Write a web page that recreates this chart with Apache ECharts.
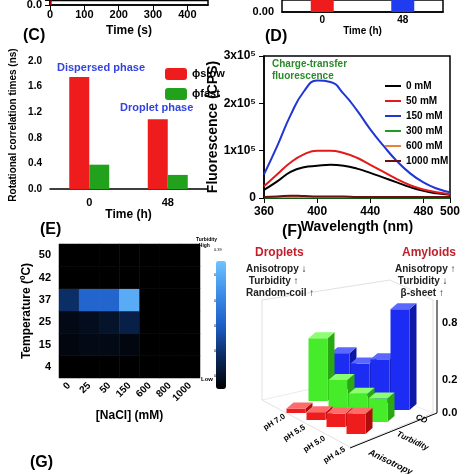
<!DOCTYPE html>
<html><head><meta charset="utf-8">
<script src="https://cdn.jsdelivr.net/npm/echarts@6/dist/echarts.min.js"></script>
<style>html,body{margin:0;padding:0;background:#fff}#c{width:474px;height:474px}</style>
</head><body><div id="c"></div>
<script>
// ---- data ----
const timeHours = ['0', '48'];
const phiSlow = [1.75, 1.09];
const phiFast = [0.38, 0.22];
const wavelengths = [360,370,380,390,400,410,420,430,440,450,460,470,480,490,500];
const fl0 = [0.17,0.35,0.55,0.65,0.68,0.70,0.68,0.62,0.53,0.43,0.33,0.23,0.15,0.10,0.07];
const fl50 = [0.25,0.50,0.75,0.92,1.00,1.00,0.95,0.85,0.70,0.55,0.40,0.27,0.18,0.12,0.08];
const fl150 = [0.50,1.10,1.75,2.25,2.48,2.45,2.20,1.85,1.45,1.10,0.78,0.52,0.33,0.20,0.12];
const fl300 = [0.01,0.01,0.01,0.01,0.01,0.01,0.01,0.01,0.01,0.01,0.01,0.01,0.01,0.01,0.01];
const fl600 = [0.02,0.02,0.02,0.02,0.02,0.02,0.02,0.02,0.02,0.02,0.02,0.02,0.02,0.02,0.02];
const fl1000 = [0.02,0.03,0.05,0.04,0.03,0.03,0.03,0.02,0.02,0.02,0.02,0.02,0.02,0.02,0.02];
const naclLabels = ['0','25','50','150','600','800','1000'];
const tempLabels = ['4','15','25','37','42','50'];
const turbidity = [ // rows = temperature (4..50), cols = NaCl
  [0.13,0.13,0.13,0.13,0.13,0.13,0.13],
  [0.14,0.145,0.145,0.14,0.13,0.13,0.13],
  [0.145,0.15,0.16,0.18,0.13,0.13,0.13],
  [0.20,0.27,0.27,0.36,0.13,0.13,0.13],
  [0.13,0.13,0.13,0.13,0.13,0.13,0.13],
  [0.13,0.13,0.13,0.13,0.13,0.13,0.13]
];
const phLabels = ['pH 7.0','pH 5.5','pH 5.0','pH 4.5'];
const typeLabels = ['Anisotropy','Turbidity','CD'];
const anisotropyVals = [0.04,0.07,0.12,0.18];
const turbidityVals = [0.56,0.25,0.19,0.21];
const cdVals = [0.32,0.29,0.39,0.90];
const timeA = [3,3];
const yA = [0,2];

// ---- build ----
const F = "'Liberation Sans', Arial, sans-serif";
const heat = [];
turbidity.forEach((row,r)=>row.forEach((v,c)=>heat.push([c,r,v])));
const bars3d = [];
[cdVals,turbidityVals,anisotropyVals].forEach((arr,k)=>arr.forEach((v,i)=>bars3d.push([i,2-k,v])));
const fcols = [['#ee1c1c','#b00c0c','#ff6a6a'],['#46ec2a','#2aa814','#8cff70'],['#1d2cf2','#0d17a8','#5a68ff']];

const ax = (o)=>Object.assign({axisLine:{lineStyle:{color:'#000',width:1.5}},axisTick:{inside:false,lineStyle:{color:'#000'}},splitLine:{show:false},axisLabel:{color:'#000',fontWeight:'bold',fontFamily:F,fontSize:11}},o);

const option = {
  backgroundColor:'#fff',
  animation:false,
  textStyle:{fontFamily:F},
  grid:[
    {left:50,top:0,width:158,height:5,show:true,borderColor:'#000',borderWidth:1.5},
    {left:282,top:0,width:161,height:12,show:true,borderColor:'#000',borderWidth:1.5},
    {left:50,top:61,width:157,height:128},
    {left:264,top:56,width:186,height:142,show:true,borderColor:'#000',borderWidth:1.5},
    {left:59,top:244,width:141,height:134},
    {left:245,top:250,width:215,height:215}
  ],
  xAxis:[
    ax({gridIndex:0,type:'value',min:0,max:460,interval:100,name:'Time (s)',nameLocation:'middle',nameGap:20,nameTextStyle:{fontWeight:'bold',fontSize:12,color:'#000'},axisLabel:{color:'#000',fontWeight:'bold',fontSize:11,margin:4,showMaxLabel:false}}),
    ax({gridIndex:1,type:'category',data:timeHours,name:'Time (h)',nameLocation:'middle',nameGap:13,nameTextStyle:{fontWeight:'bold',fontSize:10,color:'#000'},axisTick:{show:false},axisLabel:{color:'#000',fontWeight:'bold',fontSize:10,margin:3}}),
    ax({gridIndex:2,type:'category',data:timeHours,name:'Time (h)',nameLocation:'middle',nameGap:20,nameTextStyle:{fontWeight:'bold',fontSize:12,color:'#000'},axisTick:{show:false}}),
    ax({gridIndex:3,type:'value',min:360,max:500,interval:40,name:'Wavelength (nm)',nameLocation:'middle',nameGap:22,nameTextStyle:{fontWeight:'bold',fontSize:14,color:'#000'},axisLabel:{color:'#000',fontWeight:'bold',fontSize:12}}),
    ax({gridIndex:4,type:'category',data:naclLabels,name:'[NaCl] (mM)',nameLocation:'middle',nameGap:32,nameTextStyle:{fontWeight:'bold',fontSize:12,color:'#000'},axisLine:{show:false},axisTick:{show:false},axisLabel:{color:'#000',fontWeight:'bold',fontSize:10,rotate:45,margin:6}}),
    {gridIndex:5,type:'value',min:0,max:215,show:false}
  ],
  yAxis:[
    ax({gridIndex:0,type:'value',min:0,max:2,interval:2,axisLabel:{color:'#000',fontWeight:'bold',fontSize:11,formatter:v=>v===0?'0.0':''}}),
    ax({gridIndex:1,type:'value',min:0,max:1,interval:1,axisLabel:{color:'#000',fontWeight:'bold',fontSize:11,formatter:v=>v===0?'0.00':''}}),
    ax({gridIndex:2,type:'value',min:0,max:2,interval:0.4,name:'Rotational correlation times (ns)',nameLocation:'middle',nameGap:32,nameTextStyle:{fontWeight:'bold',fontSize:10,color:'#000'},axisLabel:{color:'#000',fontWeight:'bold',fontSize:10,formatter:v=>v.toFixed(1)}}),
    ax({gridIndex:3,type:'value',min:0,max:3,interval:1,name:'Fluorescence (CPS)',nameLocation:'middle',nameGap:34,nameTextStyle:{fontWeight:'bold',fontSize:14,color:'#000'},axisLabel:{color:'#000',fontWeight:'bold',fontSize:12,formatter:v=>v===0?'0':v+'x10⁵'}}),
    ax({gridIndex:4,type:'category',data:tempLabels,name:'Temperature (ºC)',nameLocation:'middle',nameGap:26,nameTextStyle:{fontWeight:'bold',fontSize:12,color:'#000'},axisLine:{show:false},axisTick:{show:false},axisLabel:{color:'#000',fontWeight:'bold',fontSize:11}}),
    {gridIndex:5,type:'value',min:0,max:215,inverse:true,show:false}
  ],
  legend:[
    {data:['ϕslow','ϕfast'],left:160,top:63,orient:'vertical',itemWidth:22,itemHeight:12,itemGap:8,textStyle:{fontWeight:'bold',fontSize:11,color:'#000'}},
    {data:['0 mM','50 mM','150 mM','300 mM','600 mM','1000 mM'],left:380,top:76,orient:'vertical',icon:'rect',itemWidth:16,itemHeight:2,itemGap:5,textStyle:{fontWeight:'bold',fontSize:10,color:'#000'}}
  ],
  visualMap:{type:'continuous',min:0.13,max:0.39,seriesIndex:10,calculable:false,left:201,top:246,itemWidth:10,itemHeight:128,text:['',''],showLabel:false,
    inRange:{color:['#000000','#0b2a5e','#1d5fc8','#3d8ee8','#6fc3ff']}},
  series:[
    {type:'line',xAxisIndex:0,yAxisIndex:0,data:timeA.map((t,i)=>[t,yA[i]]),symbol:'none',lineStyle:{color:'#e00',width:1.5}},
    {type:'bar',xAxisIndex:1,yAxisIndex:1,data:[{value:5,itemStyle:{color:'#ee1c1c'}},{value:5,itemStyle:{color:'#1f3cf0'}}],barWidth:23},
    {name:'ϕslow',type:'bar',xAxisIndex:2,yAxisIndex:2,data:phiSlow,barWidth:20,barGap:'0%',itemStyle:{color:'#ee1c1c'}},
    {name:'ϕfast',type:'bar',xAxisIndex:2,yAxisIndex:2,data:phiFast,barWidth:20,itemStyle:{color:'#22a11c'}},
    {name:'0 mM',type:'line',xAxisIndex:3,yAxisIndex:3,data:wavelengths.map((w,i)=>[w,fl0[i]]),symbol:'none',smooth:true,lineStyle:{color:'#000',width:2},itemStyle:{color:'#000'}},
    {name:'50 mM',type:'line',xAxisIndex:3,yAxisIndex:3,data:wavelengths.map((w,i)=>[w,fl50[i]]),symbol:'none',smooth:true,lineStyle:{color:'#e41a1a',width:2},itemStyle:{color:'#e41a1a'}},
    {name:'150 mM',type:'line',xAxisIndex:3,yAxisIndex:3,data:wavelengths.map((w,i)=>[w,fl150[i]]),symbol:'none',smooth:true,lineStyle:{color:'#1f36d6',width:2},itemStyle:{color:'#1f36d6'}},
    {name:'300 mM',type:'line',xAxisIndex:3,yAxisIndex:3,data:wavelengths.map((w,i)=>[w,fl300[i]]),symbol:'none',smooth:true,lineStyle:{color:'#1e9e1e',width:2},itemStyle:{color:'#1e9e1e'}},
    {name:'600 mM',type:'line',xAxisIndex:3,yAxisIndex:3,data:wavelengths.map((w,i)=>[w,fl600[i]]),symbol:'none',smooth:true,lineStyle:{color:'#e8823a',width:2},itemStyle:{color:'#e8823a'}},
    {name:'1000 mM',type:'line',xAxisIndex:3,yAxisIndex:3,data:wavelengths.map((w,i)=>[w,fl1000[i]]),symbol:'none',smooth:true,lineStyle:{color:'#6b1010',width:2},itemStyle:{color:'#6b1010'}},
    {type:'heatmap',xAxisIndex:4,yAxisIndex:4,data:heat,itemStyle:{borderWidth:0}},
    {type:'custom',xAxisIndex:5,yAxisIndex:5,data:bars3d,clip:false,
      renderItem:(params,api)=>{
        const i=api.value(0), j=api.value(1), v=api.value(2);
        const unit = api.size([1,1]);
        const b = api.coord([51+20*i+22*j, 160+7*i-12*j]);
        const h = v*112*unit[1];
        const w = 19*unit[0], dx=7*unit[0], dy=-6*unit[1];
        const x0=b[0]-w/2, x1=b[0]+w/2, yb=b[1]+3, yt=yb-h;
        const c=fcols[j];
        return {type:'group',children:[
          {type:'polygon',shape:{points:[[x1,yb],[x1+dx,yb+dy],[x1+dx,yt+dy],[x1,yt]]},style:{fill:c[1]}},
          {type:'rect',shape:{x:x0,y:yt,width:w,height:h},style:{fill:c[0]}},
          {type:'polygon',shape:{points:[[x0,yt],[x1,yt],[x1+dx,yt+dy],[x0+dx,yt+dy]]},style:{fill:c[2]}}
        ]};
      }}
  ],
  graphic:[
    {type:'text',left:23,top:28,style:{text:'(C)',font:'bold 16px '+F,fill:'#000'}},
    {type:'text',left:265,top:29,style:{text:'(D)',font:'bold 16px '+F,fill:'#000'}},
    {type:'text',left:40,top:222,style:{text:'(E)',font:'bold 16px '+F,fill:'#000'}},
    {type:'text',left:282,top:224,style:{text:'(F)',font:'bold 16px '+F,fill:'#000'}},
    {type:'text',left:30,top:455,style:{text:'(G)',font:'bold 16px '+F,fill:'#000'}},
    {type:'text',left:57,top:62,style:{text:'Dispersed phase',font:'bold 11px '+F,fill:'#3344dd'}},
    {type:'text',left:120,top:102,style:{text:'Droplet phase',font:'bold 11px '+F,fill:'#3344dd'}},
    {type:'text',left:272,top:58,style:{text:'Charge-transfer\nfluorescence',font:'bold 10px '+F,fill:'#2a8a2a',lineHeight:12}},
    {type:'text',left:196,top:237,style:{text:'Turbidity\n  High',font:'bold 5px '+F,fill:'#000',lineHeight:6}},
    {type:'text',left:201,top:376,style:{text:'Low',font:'bold 6px '+F,fill:'#000'}},
    {type:'text',left:214,top:248,style:{text:'0.39\n\n\n\n\n\n0.34\n\n\n\n\n\n0.29\n\n\n\n\n\n0.24\n\n\n\n\n\n0.18\n\n\n\n\n\n0.13',font:'4px '+F,fill:'#000',lineHeight:4.2}},
    {type:'text',left:255,top:247,style:{text:'Droplets',font:'bold 12px '+F,fill:'#c0202a'}},
    {type:'text',left:246,top:263,style:{text:'Anisotropy ↓\n Turbidity ↑\nRandom-coil ↑',font:'bold 10px '+F,fill:'#222',lineHeight:12}},
    {type:'text',left:402,top:247,style:{text:'Amyloids',font:'bold 12px '+F,fill:'#c0202a'}},
    {type:'text',left:395,top:263,style:{text:'Anisotropy ↑\n Turbidity ↓\n  β-sheet ↑',font:'bold 10px '+F,fill:'#222',lineHeight:12}},
    {type:'polyline',z:-1,shape:{points:[[262,300],[390,280],[433,300],[433,413]]},style:{stroke:'#ccc',lineWidth:0.6,fill:null}},
    {type:'polyline',z:-1,shape:{points:[[262,300],[262,400],[350,447],[433,413]]},style:{stroke:'#ccc',lineWidth:0.6,fill:null}},
    {type:'polyline',z:-1,shape:{points:[[262,400],[350,380],[433,413]]},style:{stroke:'#ddd',lineWidth:0.6,fill:null}},
    {type:'line',shape:{x1:437,y1:300,x2:437,y2:413},style:{stroke:'#000',lineWidth:1}},
    {type:'line',shape:{x1:437,y1:413,x2:350,y2:448},style:{stroke:'#000',lineWidth:1}},
    {type:'text',left:442,top:317,style:{text:'0.8',font:'bold 11px '+F,fill:'#000'}},
    {type:'text',left:442,top:374,style:{text:'0.2',font:'bold 11px '+F,fill:'#000'}},
    {type:'text',left:442,top:407,style:{text:'0.0',font:'bold 11px '+F,fill:'#000'}},
    {type:'text',x:262,y:425,rotation:0.55,style:{text:'pH 7.0',font:'bold 8px '+F,fill:'#000'}},
    {type:'text',x:282,y:436,rotation:0.55,style:{text:'pH 5.5',font:'bold 8px '+F,fill:'#000'}},
    {type:'text',x:302,y:447,rotation:0.55,style:{text:'pH 5.0',font:'bold 8px '+F,fill:'#000'}},
    {type:'text',x:322,y:458,rotation:0.55,style:{text:'pH 4.5',font:'bold 8px '+F,fill:'#000'}},
    {type:'text',x:418,y:413,rotation:-0.45,style:{text:'CD',font:'italic bold 8px '+F,fill:'#000'}},
    {type:'text',x:399,y:430,rotation:-0.45,style:{text:'Turbidity',font:'italic bold 8px '+F,fill:'#000'}},
    {type:'text',x:371,y:448,rotation:-0.45,style:{text:'Anisotropy',font:'italic bold 9px '+F,fill:'#000'}}
  ]
};
const chart = echarts.init(document.getElementById('c'),null,{renderer:'canvas'});
chart.setOption(option);
</script></body></html>
